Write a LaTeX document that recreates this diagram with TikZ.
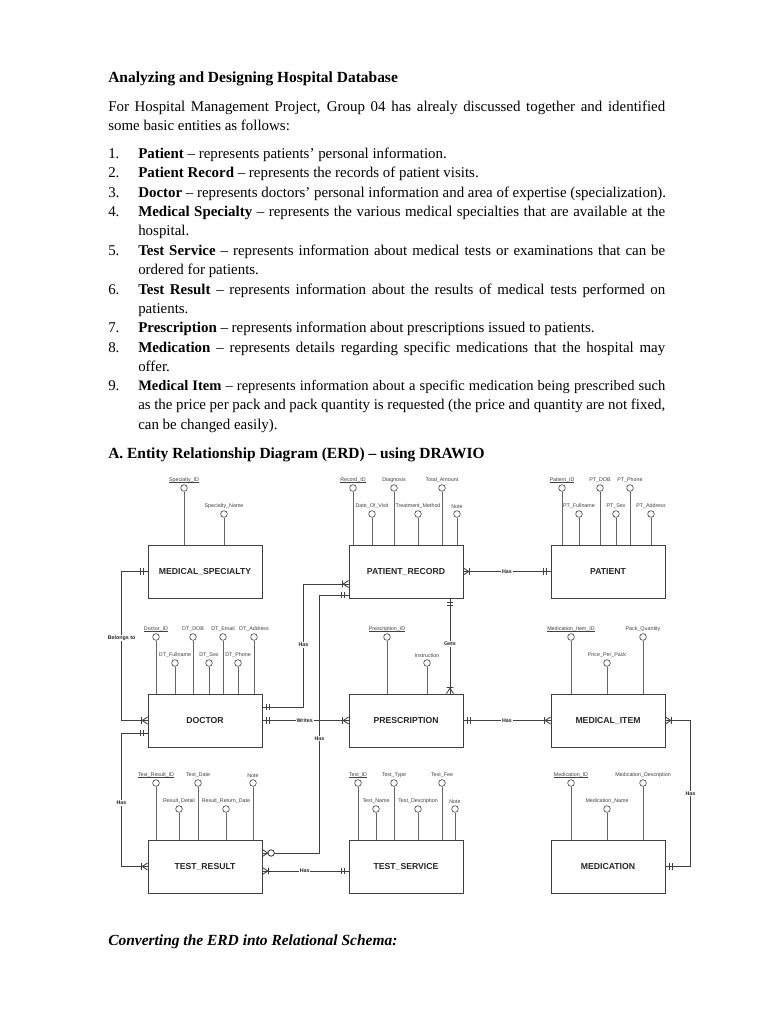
\documentclass[tikz,border=0pt]{standalone}
\usepackage{fontspec}
\setmainfont{Liberation Serif}
\newfontfamily\erdfont{Liberation Sans}
\usetikzlibrary{calc}
\newcommand\pkey[1]{\setbox0\hbox{#1}\rlap{\rule[-0.55pt]{\wd0}{0.3pt}}#1}
\newcommand\attrib[5]{%
  \node[attrcirc,label={[attrlab]above:#4}] (#1) at (#2,#3) {};
  \draw[attrline] (#1.south) -- (#1.south |- #5.north);}
\begin{document}
\begin{tikzpicture}[x=0.75pt,y=-0.75pt,
  body/.style={anchor=base west,inner sep=0pt,font=\fontsize{11.2}{13}\selectfont},
  bodyb/.style={anchor=base west,inner sep=0pt,font=\bfseries\fontsize{11.6}{13}\selectfont},
  entity/.style={draw=black!75,line width=0.7pt,minimum width=85.5pt,minimum height=39.75pt,
    inner sep=0pt,font=\erdfont\bfseries\fontsize{6.5}{7.5}\selectfont,text=black!85},
  attrcirc/.style={circle,draw=black!70,line width=0.5pt,minimum size=5pt,inner sep=0pt,fill=white},
  attrlab/.style={font=\erdfont\fontsize{4}{4.5}\selectfont,text=black!75,inner sep=1pt},
  attrline/.style={draw=black!60,line width=0.6pt},
  rel/.style={draw=black!75,line width=0.65pt},
  rellab/.style={font=\erdfont\bfseries\fontsize{4}{4.5}\selectfont,fill=white,inner sep=0.6pt,text=black!85},
  mandone/.pic={\draw[rel] (3pt,-2.4pt) -- (3pt,2.4pt) (5.2pt,-2.4pt) -- (5.2pt,2.4pt);},
  onemany/.pic={\draw[rel] (0pt,-2.6pt) -- (4pt,0pt) -- (0pt,2.6pt) (4.5pt,-2.6pt) -- (4.5pt,2.6pt);},
  zeromany/.pic={\draw[rel] (0pt,-2.6pt) -- (4pt,0pt) -- (0pt,2.6pt); \draw[rel,fill=white] (6.5pt,0pt) circle (2.4pt);}
]
\useasboundingbox[fill=white] (0,0) rectangle (768,1024);

% ---------------- text ----------------
\node[bodyb] (title) at (108,83) {Analyzing and Designing Hospital Database};
\node[body] (p1) at (108,111) {\makebox[417.75pt][s]{For Hospital Management Project, Group 04 has alrealy discussed together and identified}};
\node[body] (p2) at (108,130) {some basic entities as follows:};

\node[body] (n1) at (108,158) {1.};
\node[body] (t1) at (138,158) {\textbf{Patient} – represents patients’ personal information.};
\node[body] (n2) at (108,177) {2.};
\node[body] (t2) at (138,177) {\textbf{Patient Record} – represents the records of patient visits.};
\node[body] (n3) at (108,197) {3.};
\node[body] (t3) at (138,197) {\textbf{Doctor} – represents doctors’ personal information and area of expertise (specialization).};
\node[body] (n4) at (108,216) {4.};
\node[body] (t4) at (138,216) {\makebox[395.25pt][s]{\textbf{Medical Specialty} – represents the various medical specialties that are available at the}};
\node[body] (t4b) at (138,235) {hospital.};
\node[body] (n5) at (108,255) {5.};
\node[body] (t5) at (138,255) {\makebox[395.25pt][s]{\textbf{Test Service} – represents information about medical tests or examinations that can be}};
\node[body] (t5b) at (138,274) {ordered for patients.};
\node[body] (n6) at (108,294) {6.};
\node[body] (t6) at (138,294) {\makebox[395.25pt][s]{\textbf{Test Result} – represents information about the results of medical tests performed on}};
\node[body] (t6b) at (138,313) {patients.};
\node[body] (n7) at (108,332) {7.};
\node[body] (t7) at (138,332) {\textbf{Prescription} – represents information about prescriptions issued to patients.};
\node[body] (n8) at (108,352) {8.};
\node[body] (t8) at (138,352) {\makebox[395.25pt][s]{\textbf{Medication} – represents details regarding specific medications that the hospital may}};
\node[body] (t8b) at (138,371) {offer.};
\node[body] (n9) at (108,390) {9.};
\node[body,font=\fontsize{10.9}{13}\selectfont] (t9) at (138,390) {\makebox[395.25pt][s]{\textbf{Medical Item} – represents information about a specific medication being prescribed such}};
\node[body] (t9b) at (138,409) {\makebox[395.25pt][s]{as the price per pack and pack quantity is requested (the price and quantity are not fixed,}};
\node[body] (t9c) at (138,429) {can be changed easily).};

\node[bodyb] (secA) at (108,458) {A. Entity Relationship Diagram (ERD) – using DRAWIO};
\node[body,font=\bfseries\itshape\fontsize{11.6}{13}\selectfont] (conv) at (108,945) {Converting the ERD into Relational Schema:};

% ---------------- entities ----------------
\node[entity] (ms)    at (205,571.5) {MEDICAL\_SPECIALTY};
\node[entity] (pr)    at (406,571.5) {PATIENT\_RECORD};
\node[entity] (pat)   at (608,571.5) {PATIENT};
\node[entity] (doc)   at (205,720.5) {DOCTOR};
\node[entity] (presc) at (406,720.5) {PRESCRIPTION};
\node[entity] (mi)    at (608,720.5) {MEDICAL\_ITEM};
\node[entity] (tr)    at (205,866.5) {TEST\_RESULT};
\node[entity] (ts)    at (406,866.5) {TEST\_SERVICE};
\node[entity] (med)   at (608,866.5) {MEDICATION};

% ---------------- attributes ----------------
\attrib{a1}{184}{488}{\pkey{Specialty\_ID}}{ms}
\attrib{a2}{224}{514}{Specialty\_Name}{ms}

\attrib{b1}{353}{488}{\pkey{Record\_ID}}{pr}
\attrib{b2}{394}{488}{Diagnosis}{pr}
\attrib{b3}{442}{488}{Total\_Amount}{pr}
\attrib{b4}{372}{514}{Date\_Of\_Visit}{pr}
\attrib{b5}{418}{514}{Treatment\_Method}{pr}
\attrib{b6}{457}{514}{Note}{pr}

\attrib{c1}{562}{488}{\pkey{Patient\_ID}}{pat}
\attrib{c2}{600}{488}{PT\_DOB}{pat}
\attrib{c3}{630}{488}{PT\_Phone}{pat}
\attrib{c4}{579}{514}{PT\_Fullname}{pat}
\attrib{c5}{616}{514}{PT\_Sex}{pat}
\attrib{c6}{651}{514}{PT\_Address}{pat}

\attrib{d1}{156}{637}{\pkey{Doctor\_ID}}{doc}
\attrib{d2}{193}{637}{DT\_DOB}{doc}
\attrib{d3}{223}{637}{DT\_Email}{doc}
\attrib{d4}{254}{637}{DT\_Address}{doc}
\attrib{d5}{175}{663}{DT\_Fullname}{doc}
\attrib{d6}{209}{663}{DT\_Sex}{doc}
\attrib{d7}{238}{663}{DT\_Phone}{doc}

\attrib{e1}{387}{637}{\pkey{Prescription\_ID}}{presc}
\attrib{e2}{427}{663}{Instruction}{presc}

\attrib{f1}{571}{637}{\pkey{Medication\_Item\_ID}}{mi}
\attrib{f2}{643}{637}{Pack\_Quantity}{mi}
\attrib{f3}{607}{663}{Price\_Per\_Pack}{mi}

\attrib{g1}{156}{783}{\pkey{Test\_Result\_ID}}{tr}
\attrib{g2}{198}{783}{Test\_Date}{tr}
\attrib{g3}{253}{783}{Note}{tr}
\attrib{g4}{179}{809}{Result\_Detail}{tr}
\attrib{g5}{226}{809}{Result\_Return\_Date}{tr}

\attrib{h1}{358}{783}{\pkey{Test\_ID}}{ts}
\attrib{h2}{394}{783}{Test\_Type}{ts}
\attrib{h3}{442}{783}{Test\_Fee}{ts}
\attrib{h4}{376}{809}{Test\_Name}{ts}
\attrib{h5}{418}{809}{Test\_Description}{ts}
\attrib{h6}{455}{809}{Note}{ts}

\attrib{k1}{571}{783}{\pkey{Medication\_ID}}{med}
\attrib{k2}{643}{783}{Medication\_Description}{med}
\attrib{k3}{607}{809}{Medication\_Name}{med}

% ---------------- connection points ----------------
\coordinate (prL1) at ($(pr.west)+(0,12.5)$);
\coordinate (prL2) at ($(pr.west)+(0,23.5)$);
\coordinate (docR1) at ($(doc.east)+(0,-13.5)$);
\coordinate (docL2) at ($(doc.west)+(0,12.5)$);
\coordinate (trR1) at ($(tr.east)+(0,-13.5)$);
\coordinate (trR2) at ($(tr.east)+(0,4.5)$);
\coordinate (tsL2) at ($(ts.west)+(0,4.5)$);
\coordinate (prB) at ($(pr.south)+(44,0)$);
\coordinate (prescT) at ($(presc.north)+(44,0)$);

% ---------------- relationships ----------------
\draw[rel] (ms.west) -- ++(-26,0) |- node[rellab,pos=0.223]{Belongs to} (doc.west);
\pic[rotate=180] at (ms.west) {mandone};
\pic[rotate=180] at (doc.west) {onemany};

\draw[rel] (pr.east) -- node[rellab]{Has} (pat.west);
\pic at (pr.east) {onemany};
\pic[rotate=180] at (pat.west) {mandone};

\draw[rel] (prL1) -- ++(-45,0) |- node[rellab,pos=0.248]{Has} (docR1);
\pic[rotate=180] at (prL1) {onemany};
\pic at (docR1) {mandone};

\draw[rel] (doc.east) -- node[rellab,pos=0.49]{Writes} (presc.west);
\pic at (doc.east) {mandone};
\pic[rotate=180] at (presc.west) {onemany};

\draw[rel] (prL2) -- ++(-29,0) |- node[rellab,pos=0.278]{Has} (trR1);
\pic[rotate=180] at (prL2) {mandone};
\pic at (trR1) {zeromany};

\draw[rel] (trR2) -- node[rellab,pos=0.49]{Has} (tsL2);
\pic at (trR2) {onemany};
\pic[rotate=180] at (tsL2) {mandone};

\draw[rel] (docL2) -- ++(-26,0) |- node[rellab,pos=0.262]{Has} (tr.west);
\pic[rotate=180] at (docL2) {mandone};
\pic[rotate=180] at (tr.west) {onemany};

\draw[rel] (prB) -- node[rellab,pos=0.48]{Gets} (prescT);
\pic[rotate=-90] at (prB) {mandone};
\pic[rotate=90] at (prescT) {onemany};

\draw[rel] (presc.east) -- node[rellab]{Has} (mi.west);
\pic at (presc.east) {mandone};
\pic[rotate=180] at (mi.west) {onemany};

\draw[rel] (mi.east) -- ++(25,0) |- node[rellab,pos=0.25]{Has} (med.east);
\pic at (mi.east) {onemany};
\pic at (med.east) {mandone};
\end{tikzpicture}
\end{document}
